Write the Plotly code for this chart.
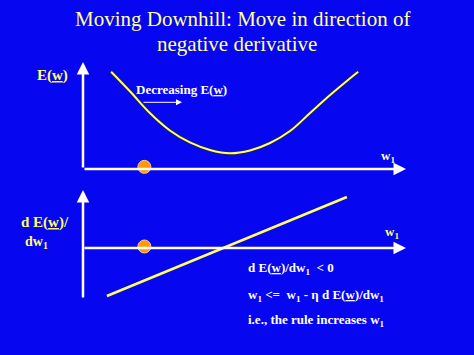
import plotly.graph_objects as go

W, H = 474, 355

# ---- data ----
curve_w = [0.87, 1.46, 2.07, 2.69, 3.31, 3.93, 4.55, 5.17, 5.79, 6.41, 7.03, 7.65, 8.27, 8.52]
curve_E = [9.09, 7.24, 5.23, 3.60, 2.48, 1.78, 1.47, 1.73, 2.43, 3.55, 5.23, 6.92, 8.48, 9.09]
deriv_w = [0.74, 8.17]
deriv_d = [-4.8, 5.1]
point_w = [1.9]
point_E = [0.2]
point_d = [0.15]

title_lines = ["Moving Downhill: Move in direction of", "negative derivative"]

BG = "#0606f0"
YEL = "#ffff66"
PALE = "#ffff99"
WHITE = "#ffffff"
SERIF = "Liberation Serif"


def px(x):
    return x / W


def py(y):
    return 1 - y / H


fig = go.Figure()

# E(w) curve with dark outline
fig.add_trace(go.Scatter(x=curve_w, y=curve_E, mode="lines", line=dict(color="#202060", width=3.5, shape="spline", smoothing=1),
                         xaxis="x", yaxis="y", hoverinfo="skip"))
fig.add_trace(go.Scatter(x=curve_w, y=curve_E, mode="lines", line=dict(color=YEL, width=2, shape="spline", smoothing=1),
                         xaxis="x", yaxis="y", hoverinfo="skip"))

# derivative line
fig.add_trace(go.Scatter(x=deriv_w, y=deriv_d, mode="lines", line=dict(color=YEL, width=2.5),
                         xaxis="x2", yaxis="y2", hoverinfo="skip"))

annotations = []


def arrow(x0, y0, x1, y1, xr, yr, width=2.5, size=1.0):
    annotations.append(dict(x=x1, y=y1, ax=x0, ay=y0, xref=xr, yref=yr, axref=xr, ayref=yr,
                            text="", showarrow=True, arrowhead=2, arrowsize=size,
                            arrowwidth=width, arrowcolor=WHITE, standoff=0))


# axes (top)
arrow(0, 0, 10, 0, "x", "y")
arrow(0, 0, 0, 10, "x", "y")
# axes (bottom)
arrow(0, 0, 10, 0, "x2", "y2")
arrow(0, -5.1, 0, 5.8, "x2", "y2")

# orange points
fig.add_trace(go.Scatter(x=point_w, y=point_E, mode="markers",
                         marker=dict(size=13, color="#ff9900", line=dict(color="#ffcc88", width=1)),
                         xaxis="x", yaxis="y", hoverinfo="skip", cliponaxis=False))
fig.add_trace(go.Scatter(x=point_w, y=point_d, mode="markers",
                         marker=dict(size=13, color="#ff9900", line=dict(color="#ffcc88", width=1)),
                         xaxis="x2", yaxis="y2", hoverinfo="skip", cliponaxis=False))

# decreasing arrow (thin)
annotations.append(dict(x=px(182), y=py(102.3), ax=-40, ay=0, xref="paper", yref="paper",
                        axref="pixel", ayref="pixel", text="", showarrow=True, arrowhead=2,
                        arrowsize=1.2, arrowwidth=1, arrowcolor=WHITE, standoff=0))


def label(text, x, y, color, size, xanchor="left", bold=True):
    annotations.append(dict(x=px(x), y=py(y), xref="paper", yref="paper", text=("<b>%s</b>" % text) if bold else text,
                            showarrow=False, xanchor=xanchor, yanchor="middle",
                            font=dict(family=SERIF, size=size, color=color)))


# title
label(title_lines[0], 242, 19, PALE, 21, "center", bold=False)
label(title_lines[1], 237, 44, PALE, 21, "center", bold=False)

label("E(<u>w</u>)", 35, 76, YEL, 15)
label("Decreasing E(<u>w</u>)", 134, 89.5, WHITE, 13)
label("w<sub>1</sub>", 379, 156, "#ffffcc", 13)

label("d E(<u>w</u>)/", 19, 222, YEL, 15)
label("dw<sub>1</sub>", 23, 242, YEL, 14)
label("w<sub>1</sub>", 383, 232, YEL, 13)

label("d E(<u>w</u>)/dw<sub>1</sub>  &lt; 0", 246, 268.5, WHITE, 13)
label("w<sub>1</sub> &lt;=  w<sub>1</sub> - η d E(<u>w</u>)/dw<sub>1</sub>", 246, 295, WHITE, 13)
label("i.e., the rule increases w<sub>1</sub>", 246, 320, WHITE, 13)

ax_common = dict(visible=False, showgrid=False, zeroline=False, fixedrange=True)

fig.update_layout(
    width=W, height=H,
    margin=dict(l=0, r=0, t=0, b=0),
    paper_bgcolor=BG, plot_bgcolor=BG,
    showlegend=False,
    xaxis=dict(domain=[83 / W, 406 / W], range=[0, 10], anchor="y", **ax_common),
    yaxis=dict(domain=[1 - 169 / H, 1 - 62 / H], range=[0, 10], anchor="x", **ax_common),
    xaxis2=dict(domain=[83 / W, 406 / W], range=[0, 10], anchor="y2", **ax_common),
    yaxis2=dict(domain=[1 - 299 / H, 1 - 190 / H], range=[-5.1, 5.8], anchor="x2", **ax_common),
    annotations=annotations,
)

fig.write_html("out.html")
